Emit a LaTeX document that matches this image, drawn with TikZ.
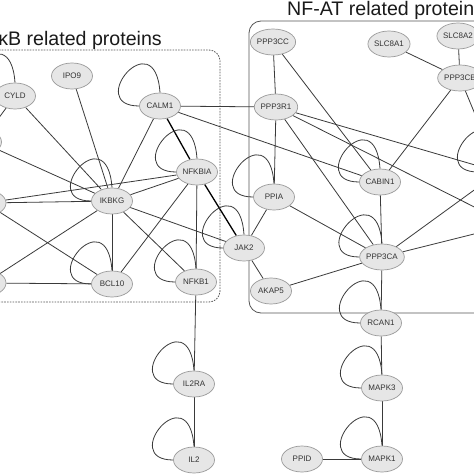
\documentclass[tikz,border=0pt]{standalone}
\usepackage{fontspec}
\setmainfont{Liberation Sans}
\usetikzlibrary{shapes.geometric}
\definecolor{nodefill}{HTML}{E6E6E6}
\definecolor{nodeline}{HTML}{9A9A9A}
\definecolor{edgec}{HTML}{3A3A3A}
\definecolor{txt}{HTML}{333333}
\definecolor{boxc}{HTML}{555555}
\definecolor{titlec}{HTML}{1A1A1A}
\pgfdeclarelayer{boxes}
\pgfdeclarelayer{edges}
\pgfsetlayers{boxes,edges,main}
\newcommand\selfloop[1]{\draw[edge] (#1.west) .. controls +(-55,0) and +(-5,-72) .. (#1.north);}
\begin{document}
\begin{tikzpicture}[x=1pt,y=-1pt,
  prot/.style={ellipse,draw=nodeline,fill=nodefill,line width=0.7pt,minimum width=41pt,minimum height=26pt,inner sep=0pt,font=\fontsize{8}{9}\selectfont,text=txt},
  edge/.style={draw=edgec,line width=0.8pt},
  thickedge/.style={draw=black,line width=1.3pt},
  groupdash/.style={draw=boxc,line width=0.8pt,dash pattern=on 1.6pt off 1.2pt,rounded corners=11pt},
  groupsolid/.style={draw=boxc,line width=0.8pt,rounded corners=12pt},
  title/.style={inner sep=0pt,font=\fontsize{19.6}{21}\selectfont,text=titlec}]
\useasboundingbox (0,0) rectangle (474,474);
\clip (0,0) rectangle (474,474);
\begin{pgfonlayer}{boxes}
\fill[white] (0,0) rectangle (474,474);
\draw[groupdash] (-20,50) rectangle (220,302);
\draw[groupsolid] (249,21) rectangle (500,313);
\end{pgfonlayer}
\node[title,anchor=base east] (t1) at (162,45) {NF-κB related proteins};
\node[title,anchor=base west] (t2) at (287,15) {NF-AT related proteins};
\begin{scope}[every node/.style={prot}]
\path
 (15,96) node (CYLD) {CYLD}
 (72,76) node (IPO9) {IPO9}
 (160,106) node (CALM1) {CALM1}
 (197,172) node (NFKBIA) {NFKBIA}
 (112,201) node (IKBKG) {IKBKG}
 (112,284) node (BCL10) {BCL10}
 (196,282) node (NFKB1) {NFKB1}
 (-19,142) node (L1) {}
 (-14.5,203) node (L2) {}
 (-14.5,283) node (L3) {}
 (244,248) node (JAK2) {JAK2}
 (273,42) node (PPP3CC) {PPP3CC}
 (389,44) node (SLC8A1) {SLC8A1}
 (458,36) node (SLC8A2) {SLC8A2}
 (460,78) node (PPP3CB) {PPP3CB}
 (276,107) node (PPP3R1) {PPP3R1}
 (274,197) node (PPIA) {PPIA}
 (380,182) node (CABIN1) {CABIN1}
 (382,257) node (PPP3CA) {PPP3CA}
 (271,291) node (AKAP5) {AKAP5}
 (381,323) node (RCAN1) {RCAN1}
 (382,388) node (MAPK3) {MAPK3}
 (382,459) node (MAPK1) {MAPK1}
 (302,459) node (PPID) {PPID}
 (194,384) node (IL2RA) {IL2RA}
 (194,460) node (IL2) {IL2}
 (499,172) node (R1) {}
 (510,225) node (R2) {};
\end{scope}
\begin{pgfonlayer}{edges}
\draw[edge] (CYLD) -- (L1);
\draw[edge] (CYLD) -- (IKBKG);
\draw[edge] (L1) -- (IKBKG);
\draw[edge] (L2) -- (NFKBIA);
\draw[edge] (L2) -- (IKBKG);
\draw[edge] (L2) -- (BCL10);
\draw[edge] (L3) -- (IKBKG);
\draw[edge] (L3) -- (BCL10);
\draw[edge] (IPO9) -- (IKBKG);
\draw[edge] (CALM1) -- (IKBKG);
\draw[thickedge] (CALM1) -- (NFKBIA);
\draw[thickedge] (NFKBIA) -- (JAK2);
\draw[edge] (CALM1) -- (PPP3R1);
\draw[edge] (CALM1) -- (CABIN1);
\draw[edge] (IKBKG) -- (NFKBIA);
\draw[edge] (IKBKG) -- (BCL10);
\draw[edge] (IKBKG) -- (NFKB1);
\draw[edge] (IKBKG) -- (JAK2);
\draw[edge] (NFKBIA) -- (BCL10);
\draw[edge] (NFKBIA) -- (NFKB1);
\draw[edge] (NFKB1) -- (IL2RA);
\draw[edge] (IL2RA) -- (IL2);
\draw[edge] (PPP3CC) -- (PPP3R1);
\draw[edge] (PPP3CC) -- (CABIN1);
\draw[edge] (PPP3R1) -- (PPIA);
\draw[edge] (PPP3R1) -- (PPP3CA);
\draw[edge] (PPP3R1) -- (R1);
\draw[edge] (PPP3R1) -- (R2);
\draw[edge] (SLC8A1) -- (PPP3CB);
\draw[edge] (SLC8A2) -- (PPP3CB);
\draw[edge] (PPP3CB) -- (CABIN1);
\draw[edge] (PPP3CB) -- (R1);
\draw[edge] (PPIA) -- (JAK2);
\draw[edge] (PPIA) -- (PPP3CA);
\draw[edge] (JAK2) -- (AKAP5);
\draw[edge] (AKAP5) -- (PPP3CA);
\draw[edge] (CABIN1) -- (PPP3CA);
\draw[edge] (PPP3CA) -- (R1);
\draw[edge] (PPP3CA) -- (R2);
\draw[edge] (PPP3CA) -- (RCAN1);
\draw[edge] (RCAN1) -- (MAPK3);
\draw[edge] (MAPK3) -- (MAPK1);
\draw[edge] (PPID) -- (MAPK1);
\selfloop{CYLD}
\selfloop{CALM1}
\selfloop{NFKBIA}
\selfloop{IKBKG}
\selfloop{BCL10}
\selfloop{NFKB1}
\selfloop{JAK2}
\selfloop{PPIA}
\selfloop{CABIN1}
\selfloop{PPP3CA}
\selfloop{RCAN1}
\selfloop{MAPK3}
\selfloop{MAPK1}
\selfloop{IL2RA}
\selfloop{IL2}
\selfloop{R1}
\end{pgfonlayer}
\end{tikzpicture}
\end{document}
